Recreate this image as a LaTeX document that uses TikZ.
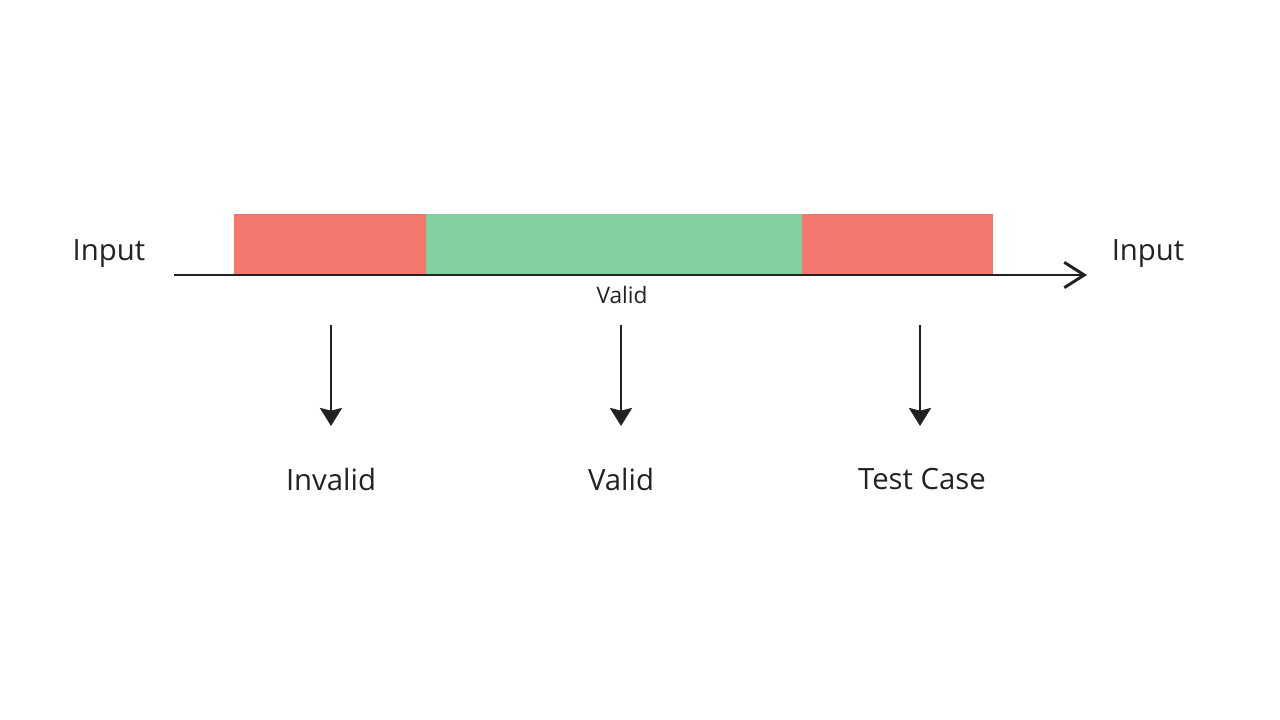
\documentclass[tikz,border=0pt]{standalone}
\usepackage{fontspec}
\setmainfont{Open Sans}
\usetikzlibrary{arrows.meta}

\definecolor{badred}{RGB}{242,119,108}
\definecolor{goodgreen}{RGB}{130,207,159}
\definecolor{inkgray}{RGB}{34,34,34}

\tikzset{every picture/.style={line width=0.75pt}}
\tikzset{
  bigtext/.style={inner sep=0.75pt, text=inkgray, font=\fontsize{22}{26}\selectfont},
  smalltext/.style={inner sep=0.75pt, text=inkgray, font=\fontsize{17}{20}\selectfont},
  downarrow/.style={draw=inkgray, line width=2.2pt, -{Stealth[length=13.5pt,width=16.5pt,inset=2pt]}},
}

\begin{document}
\begin{tikzpicture}[x=0.75pt,y=0.75pt,yscale=-1,xscale=1]
\useasboundingbox (0,0) rectangle (1280,720);

%Shape: Rectangle [id:invalid low]
\fill [badred] (234,214) rectangle (426,275) ;
%Shape: Rectangle [id:valid range]
\fill [goodgreen] (426,214) rectangle (802,275) ;
%Shape: Rectangle [id:invalid high]
\fill [badred] (802,214) rectangle (993,275) ;

%Straight Lines [id:axis]
\coordinate (axstart) at (174,275) ;
\coordinate (axend) at (1087,275) ;
\draw [draw=inkgray, line width=2.2pt, -{Straight Barb[length=15pt,width=19pt,line width=2.2pt]}] (axstart) -- (axend) ;

% Text Node
\node (inleft) at (109,254) [bigtext] {Input} ;
% Text Node
\node (inright) at (1148,254) [bigtext] {Input} ;
% Text Node
\node (validsmall) at (622,295) [smalltext] {Valid} ;

% Text Node
\node (invalid) at (331,479) [bigtext] {Invalid} ;
% Text Node
\node (valid) at (621,479) [bigtext] {Valid} ;
% Text Node
\node (testcase) at (922,479) [bigtext] {Test Case} ;

%Straight Lines [id:arrows down]
\coordinate (invtop) at (331,325) ;
\coordinate (invtip) at (331,426) ;
\coordinate (valtop) at (621,325) ;
\coordinate (valtip) at (621,426) ;
\coordinate (testtop) at (920,325) ;
\coordinate (testtip) at (920,426) ;
\draw [downarrow] (invtop) -- (invtip) ;
\draw [downarrow] (valtop) -- (valtip) ;
\draw [downarrow] (testtop) -- (testtip) ;

\end{tikzpicture}
\end{document}
